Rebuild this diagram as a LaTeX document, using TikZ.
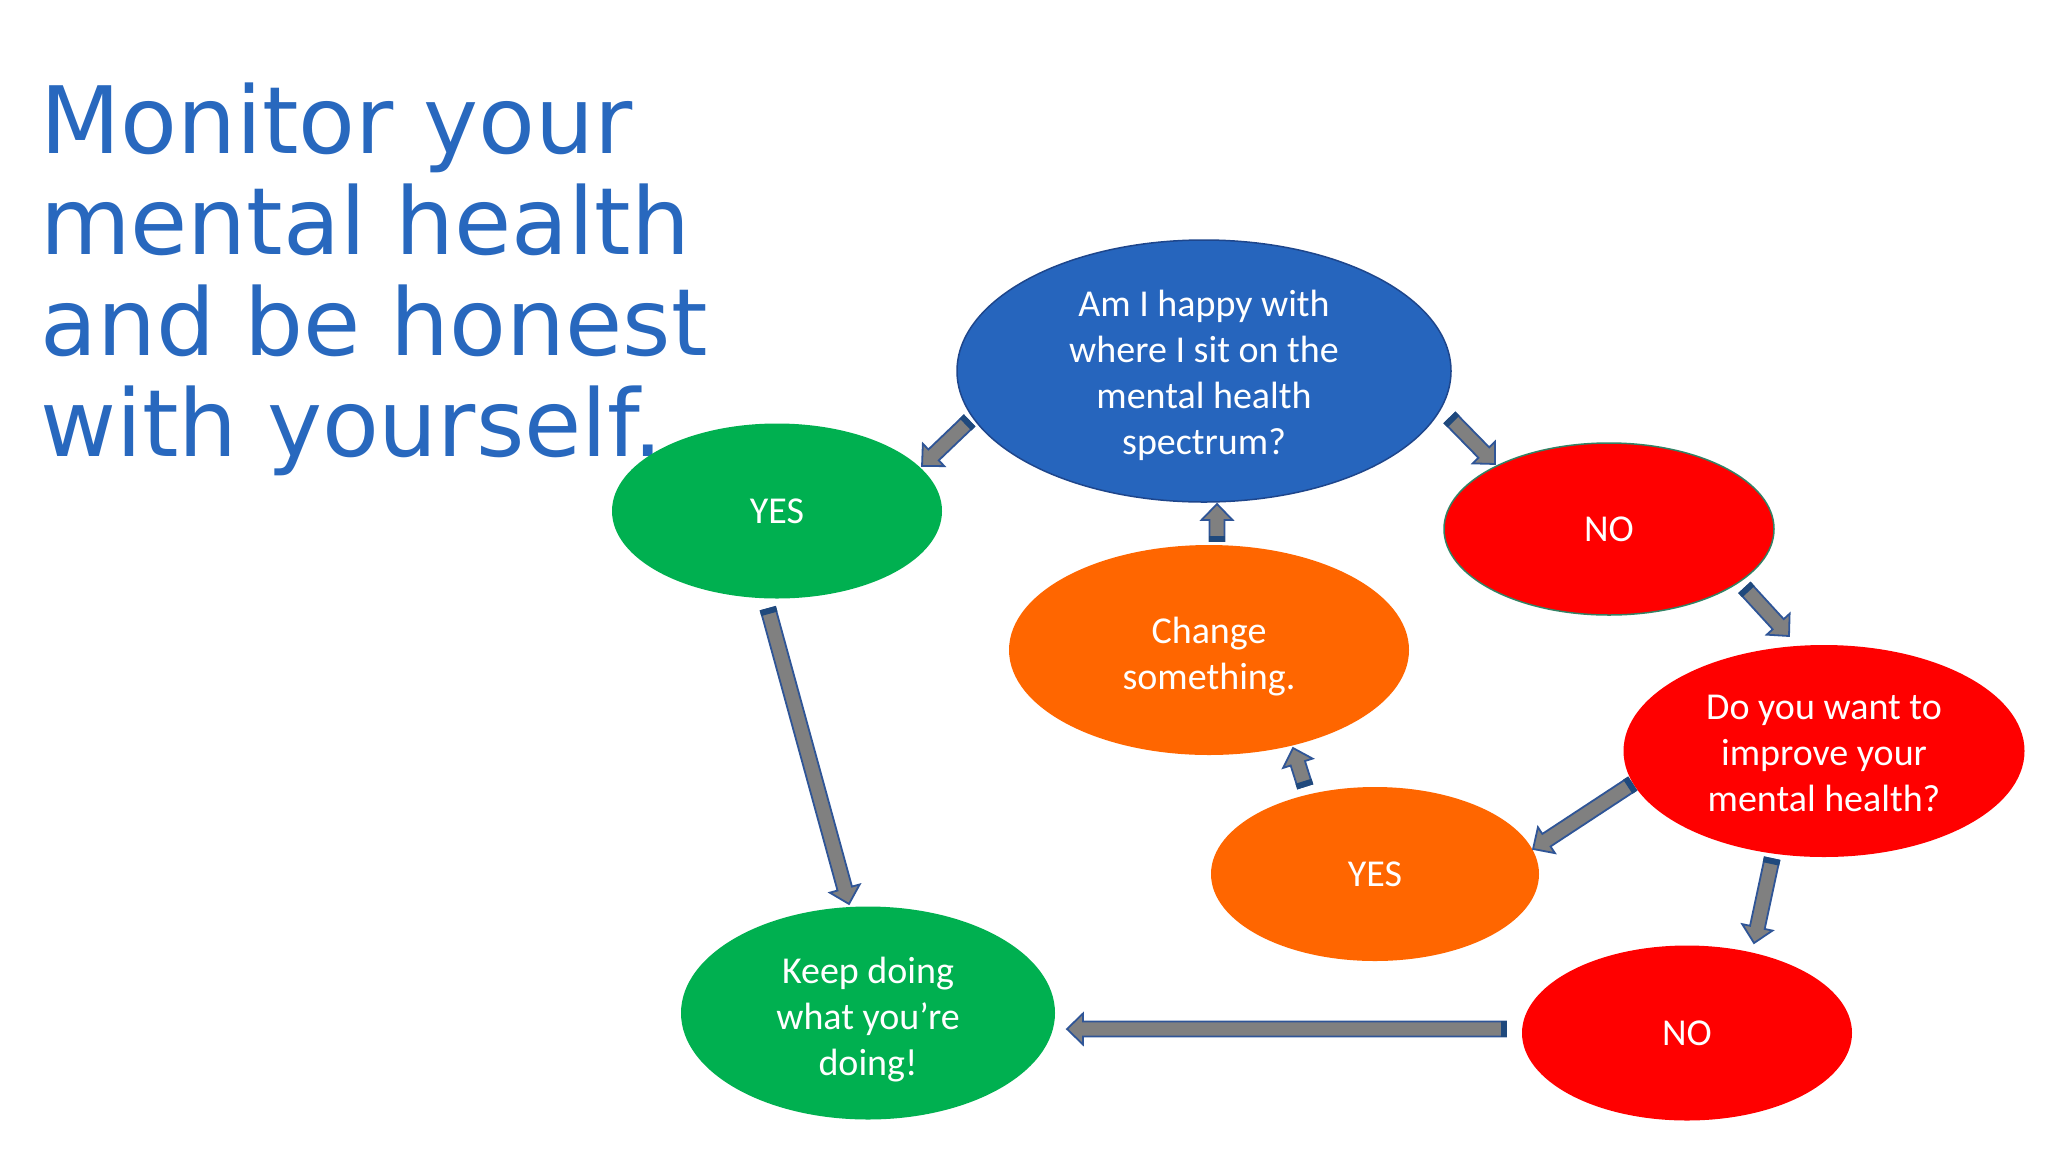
\documentclass[tikz,border=0pt]{standalone}
\usepackage{fontspec}
\setmainfont{Carlito}
\newfontfamily\titlefont{DejaVu Sans}
\usetikzlibrary{shapes.geometric,calc}
\definecolor{titleblue}{RGB}{40,104,190}
\definecolor{qblue}{RGB}{38,101,189}
\definecolor{qblueline}{RGB}{30,70,140}
\definecolor{okgreen}{RGB}{0,176,80}
\definecolor{nored}{RGB}{255,0,0}
\definecolor{chorange}{RGB}{255,102,0}
\definecolor{noline}{RGB}{50,130,100}
\definecolor{arrfill}{RGB}{128,128,128}
\definecolor{arrline}{RGB}{47,85,151}
\definecolor{arrcap}{RGB}{31,73,125}
\newcommand{\blockarrow}[2]{%
  \path (#1); \pgfgetlastxy{\baxa}{\baya}
  \path (#2); \pgfgetlastxy{\baxb}{\bayb}
  \pgfmathsetmacro\baang{atan2(\bayb-\baya,\baxb-\baxa)}
  \pgfmathsetmacro\balen{veclen(\baxb-\baxa,\bayb-\baya)}
  \begin{scope}[shift={(#1)},rotate=\baang]
    \draw[fill=arrfill,draw=arrline,line width=1.8pt,line join=miter]
      (0pt,7.5pt) -- ({\balen pt-16pt},7.5pt) -- ({\balen pt-16pt},15.5pt) -- ({\balen pt},0pt)
      -- ({\balen pt-16pt},-15.5pt) -- ({\balen pt-16pt},-7.5pt) -- (0pt,-7.5pt) -- cycle;
    \fill[arrcap] (-0.9pt,-8.4pt) rectangle (5pt,8.4pt);
  \end{scope}}
\newcommand{\topstrut}[1]{\rule{0pt}{#1}}
\tikzset{
  title/.style={anchor=base west,inner sep=0pt,text=titleblue,font=\titlefont\fontsize{93}{101}\selectfont},
  bubble/.style={ellipse,inner sep=0pt,align=center,text=white,font=\fontsize{38}{46}\selectfont},
}
\begin{document}
\begin{tikzpicture}[x=1pt,y=-1pt]
\useasboundingbox[fill=white] (0,0) rectangle (2048,1152);
\node[title] (t1) at (40,153) {Monitor your};
\node[title] (t2) at (40,254) {mental health};
\node[title] (t3) at (40,355) {and be honest};
\node[title] (t4) at (40,456) {with yourself.};

\node[bubble,fill=qblue,draw=qblueline,line width=1.5pt,minimum width=494pt,minimum height=262pt] (happy) at (1204,371)
  {\topstrut{36pt}Am I happy with\\where I sit on the\\mental health\\spectrum?};
\node[bubble,fill=okgreen,minimum width=330pt,minimum height=175pt] (yes1) at (777,511) {YES};
\node[bubble,fill=nored,draw=noline,line width=1.5pt,minimum width=330pt,minimum height=172pt] (no1) at (1609,529) {NO};
\node[bubble,fill=chorange,minimum width=400pt,minimum height=210pt] (change) at (1209,650) {\topstrut{40pt}Change\\something.};
\node[bubble,fill=nored,minimum width=401pt,minimum height=212pt] (improve) at (1824,751) {\topstrut{30pt}Do you want to\\improve your\\mental health?};
\node[bubble,fill=chorange,minimum width=328pt,minimum height=174pt] (yes2) at (1375,874) {YES};
\node[bubble,fill=okgreen,minimum width=374pt,minimum height=213pt] (keep) at (868,1013) {\topstrut{40pt}Keep doing\\what you’re\\doing!};
\node[bubble,fill=nored,minimum width=330pt,minimum height=175pt] (no2) at (1687,1033) {NO};

\coordinate (a1s) at (969,421);  \coordinate (a1e) at (922,466);
\coordinate (a2s) at (1450,418); \coordinate (a2e) at (1495,464);
\coordinate (a3s) at (1217,541); \coordinate (a3e) at (1217,504);
\coordinate (a4s) at (1745,588); \coordinate (a4e) at (1789,636);
\coordinate (a5s) at (1632,784); \coordinate (a5e) at (1533,849);
\coordinate (a6s) at (1305,786); \coordinate (a6e) at (1293,748);
\coordinate (a7s) at (768,609);  \coordinate (a7e) at (849,904);
\coordinate (a8s) at (1772,859); \coordinate (a8e) at (1754,943);
\coordinate (a9s) at (1506,1029); \coordinate (a9e) at (1067,1029);
\blockarrow{a1s}{a1e}
\blockarrow{a2s}{a2e}
\blockarrow{a3s}{a3e}
\blockarrow{a4s}{a4e}
\blockarrow{a5s}{a5e}
\blockarrow{a6s}{a6e}
\blockarrow{a7s}{a7e}
\blockarrow{a8s}{a8e}
\blockarrow{a9s}{a9e}
\end{tikzpicture}
\end{document}
